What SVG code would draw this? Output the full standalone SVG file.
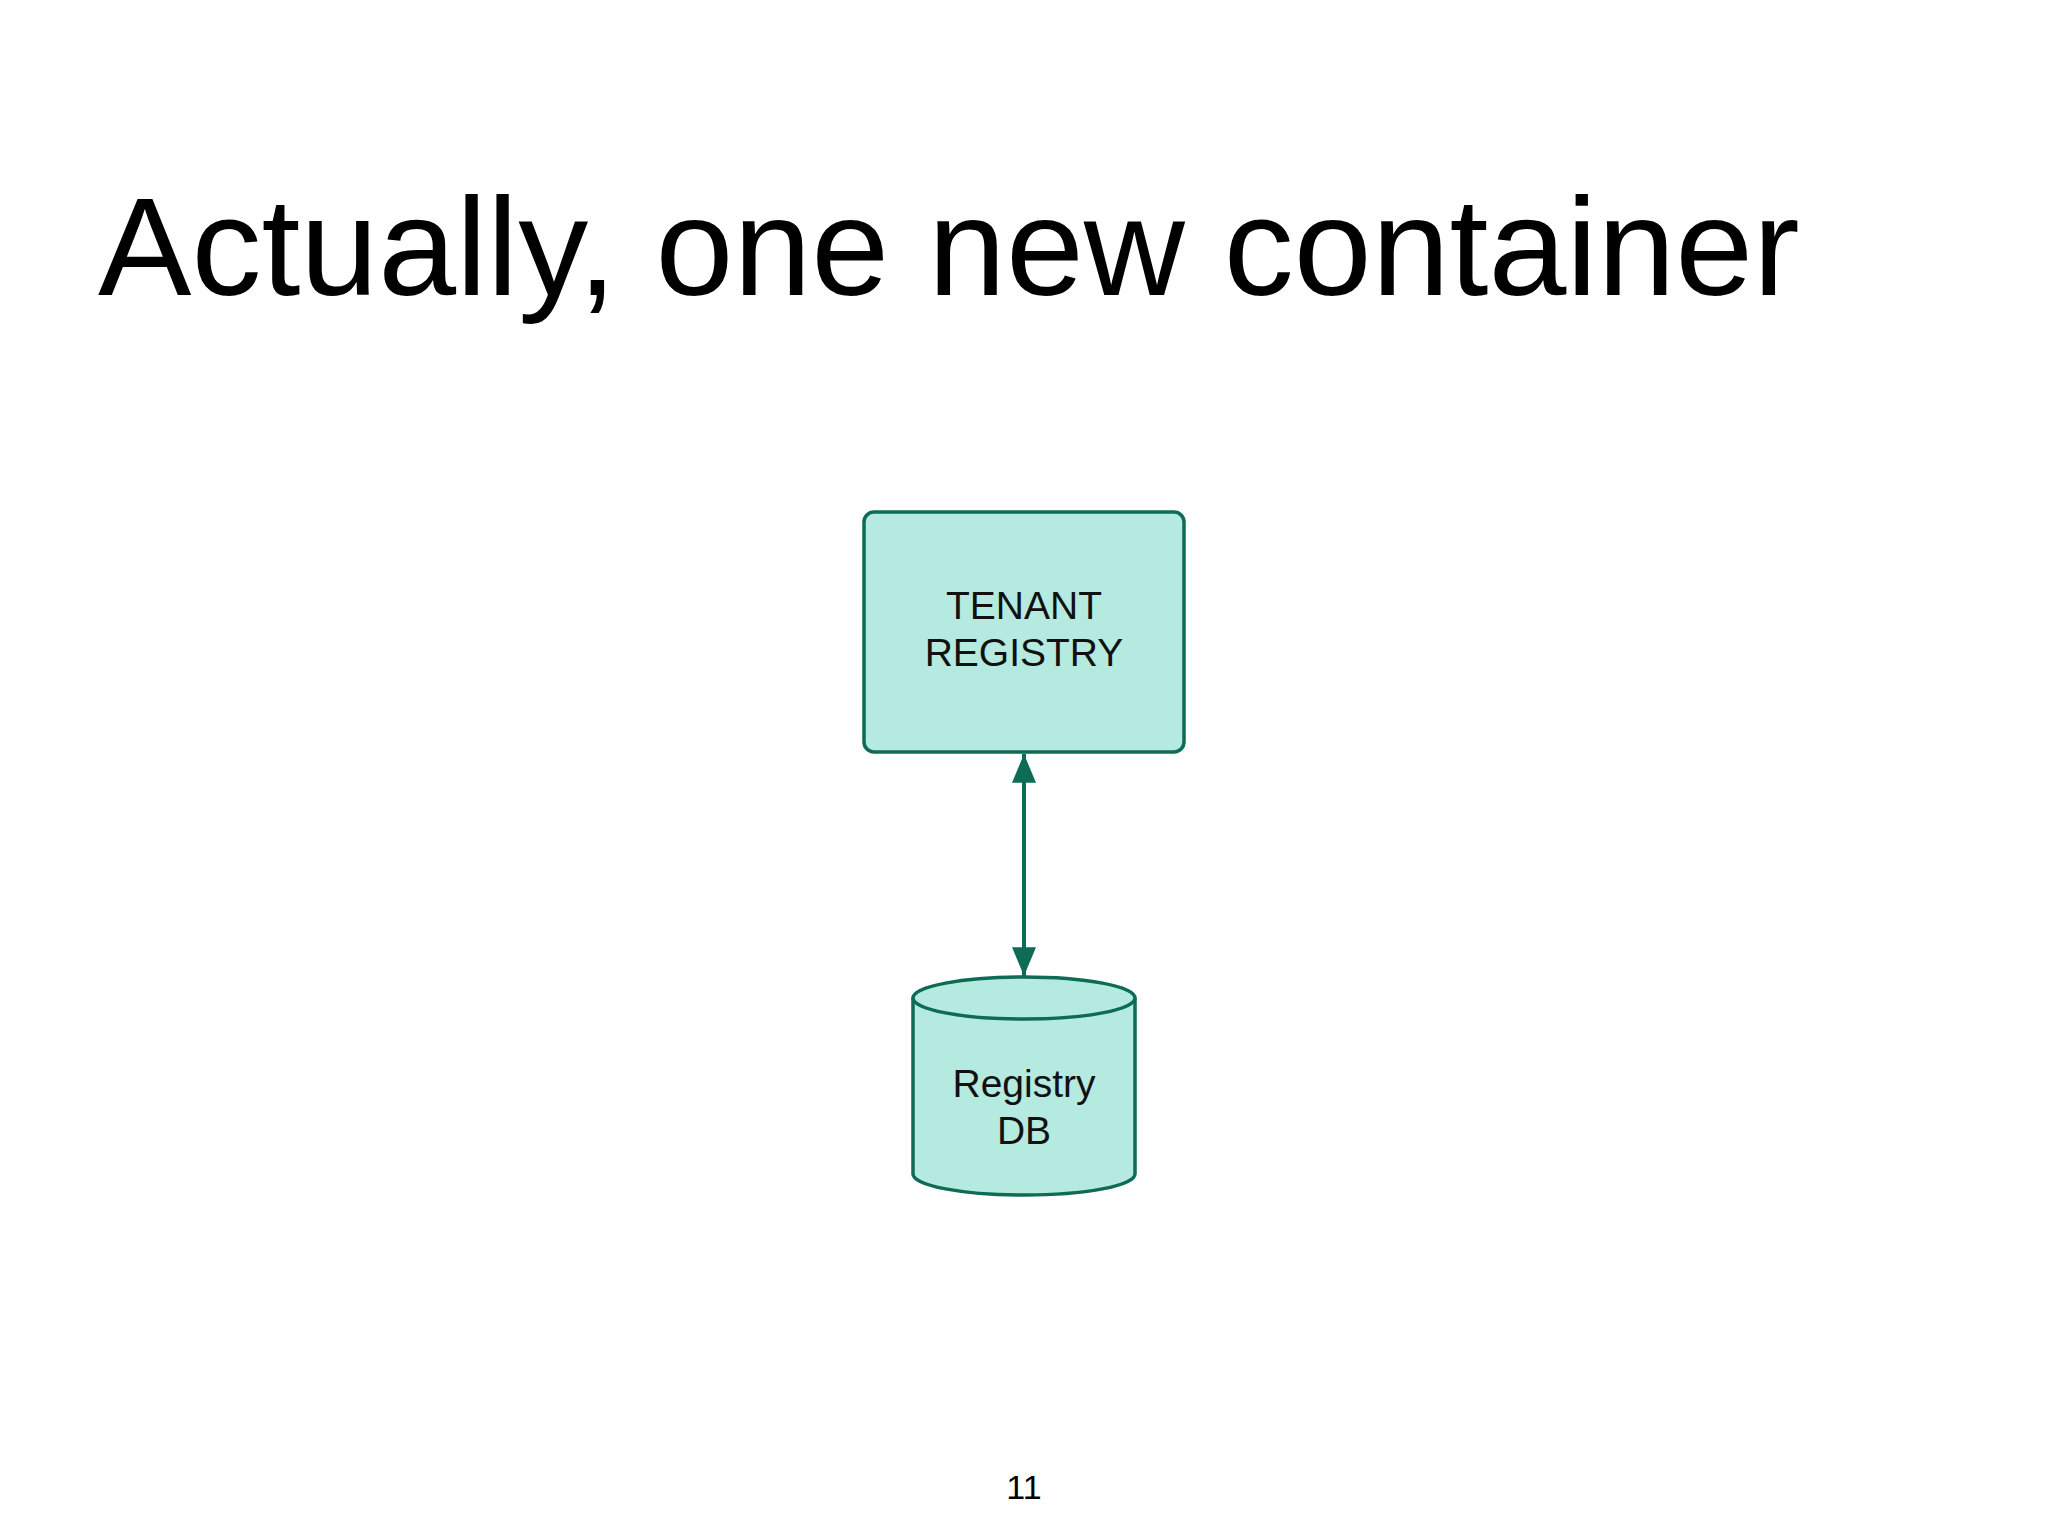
<svg xmlns="http://www.w3.org/2000/svg" width="2048" height="1536" viewBox="0 0 2048 1536">
<style>
.n{fill:#b4eadf;stroke:#0e6b55;stroke-width:3.5}
.t{font-family:"Liberation Sans",Arial,sans-serif;fill:#111;text-anchor:middle;font-size:39px}
</style>
<defs>
<marker id="a" viewBox="0 0 10 10" refX="10" refY="5" markerWidth="8" markerHeight="6" orient="auto-start-reverse" markerUnits="userSpaceOnUse">
<path d="M0,0L10,5L0,10z" fill="#0e6b55"/>
</marker>
<marker id="b" viewBox="0 0 12 10" refX="12" refY="5" markerWidth="30" markerHeight="24" orient="auto-start-reverse" markerUnits="userSpaceOnUse">
<path d="M0,0L12,5L0,10z" fill="#0e6b55"/>
</marker>
</defs>
<rect width="2048" height="1536" fill="#fff"/>
<text x="98" y="295" font-family="'Liberation Sans',Arial,sans-serif" font-size="140" fill="#000">Actually, one new container</text>
<g id="connectors">
<line x1="1024" y1="754" x2="1024" y2="976" stroke="#0e6b55" stroke-width="4" marker-start="url(#b)" marker-end="url(#b)"/>
</g>
<g id="tenant-registry">
<rect class="n" x="864" y="512" width="320" height="240" rx="10"/>
<text class="t" x="1024" y="619">TENANT</text>
<text class="t" x="1024" y="666">REGISTRY</text>
</g>
<g id="registry-db">
<path class="n" d="M913,998 V1174 A111,21 0 0 0 1135,1174 V998 A111,21 0 0 0 913,998 Z"/>
<path class="n" d="M913,998 A111,21 0 0 0 1135,998" fill="none"/>
<text class="t" x="1024" y="1097">Registry</text>
<text class="t" x="1024" y="1144">DB</text>
</g>
<text x="1024" y="1499" font-family="'Liberation Sans',Arial,sans-serif" font-size="34" text-anchor="middle" fill="#000">11</text>
</svg>
